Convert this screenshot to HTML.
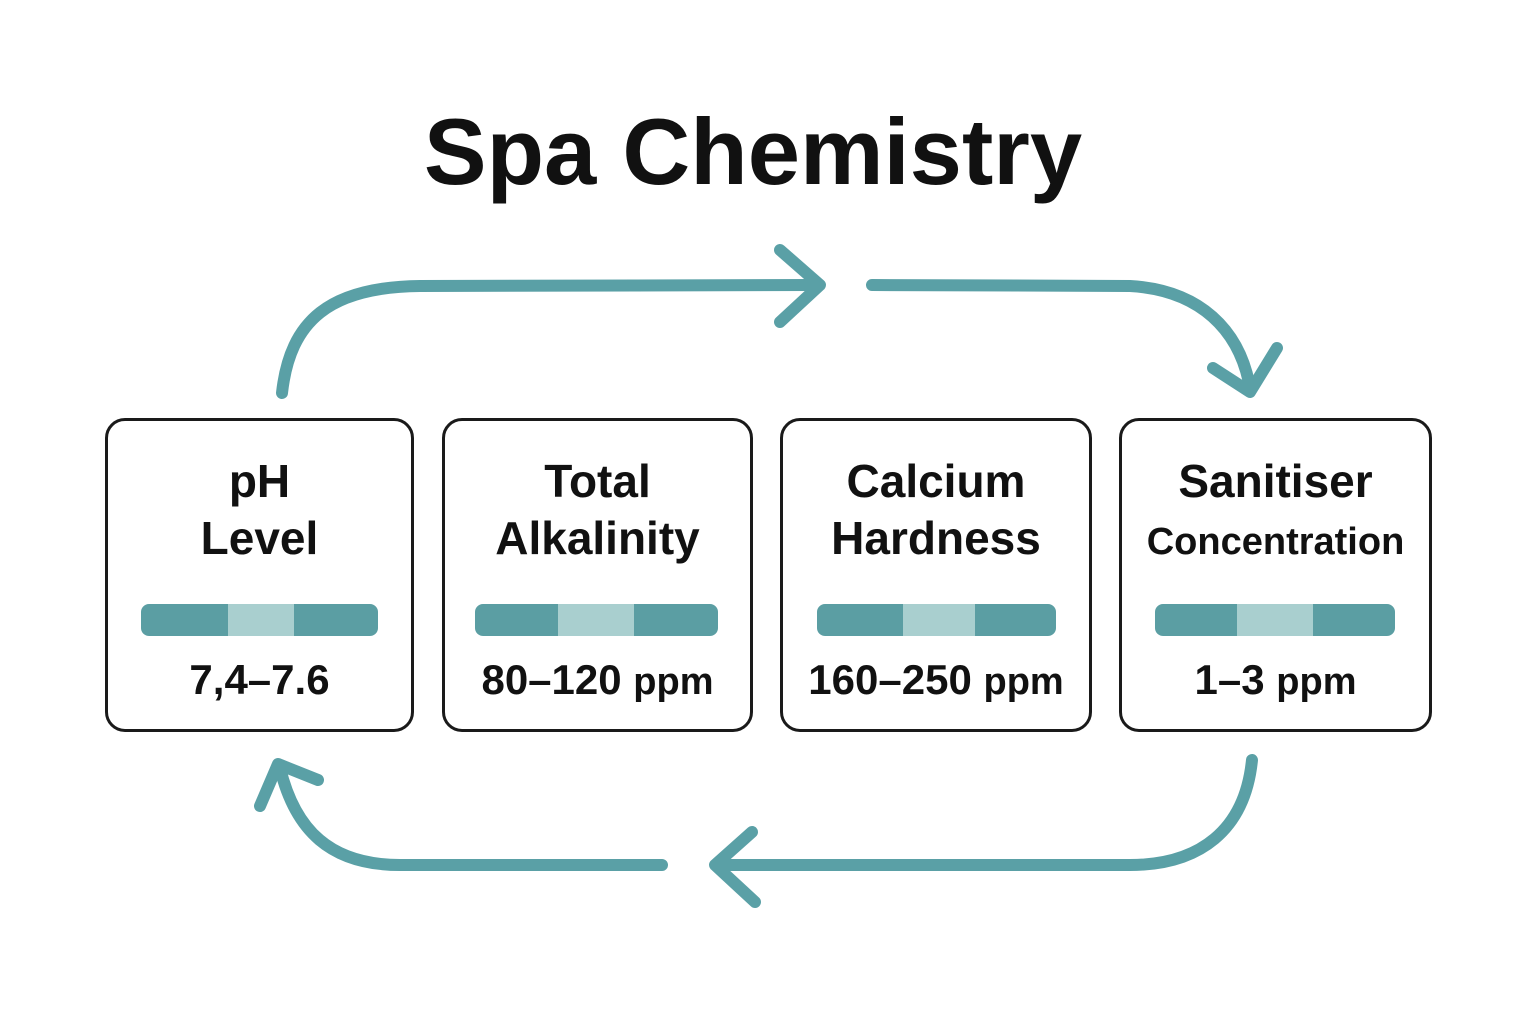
<!DOCTYPE html>
<html><head><meta charset="utf-8"><style>
html,body{margin:0;padding:0;background:#fff}
body{width:1536px;height:1024px;position:relative;overflow:hidden;font-family:"Liberation Sans",sans-serif;color:#111}
.title{position:absolute;left:0;width:1506px;top:98px;text-align:center;font-size:94px;font-weight:bold;letter-spacing:0}
.box{position:absolute;top:418px;height:309px;border:3px solid #1a1a1a;border-radius:20px;box-sizing:border-box;}
.t{position:absolute;left:0;right:0;text-align:center;font-weight:bold;font-size:46px;line-height:57px;top:32px}
.bar{position:absolute;top:183px;height:32px;border-radius:8px;background:#5b9ea3;overflow:hidden}
.bar i{position:absolute;top:0;bottom:0;background:#a9cfcf}
.v{position:absolute;left:0;right:0;text-align:center;top:234px;font-size:42px;font-weight:bold;line-height:50px}
.v small{font-size:38px}
</style></head><body>
<div class="title">Spa Chemistry</div>
<svg width="1536" height="1024" style="position:absolute;left:0;top:0" fill="none" stroke="#5aa0a6" stroke-width="12" stroke-linecap="round" stroke-linejoin="round">
<path d="M282 393 C290 320 330 287 420 286 L815 285"/>
<path d="M780 250 L820 285 L780 322"/>
<path d="M872 285 L1130 286 C1200 290 1240 330 1250 388"/>
<path d="M1213 368 L1250 392 L1277 348"/>
<path d="M1252 760 C1245 830 1200 865 1130 865 L718 865"/>
<path d="M752 832 L715 865 L755 902"/>
<path d="M662 865 L400 865 C330 865 295 830 280 768"/>
<path d="M260 806 L278 764 L318 780"/>
</svg>
<div class="box" style="left:105px;width:309px;height:314px">
 <div class="t">pH<br>Level</div>
 <div class="bar" style="left:33px;width:237px"><i style="left:87px;width:66px"></i></div>
 <div class="v">7,4–7.6</div>
</div>
<div class="box" style="left:442px;width:311px;height:314px">
 <div class="t">Total<br>Alkalinity</div>
 <div class="bar" style="left:30px;width:243px"><i style="left:83px;width:76px"></i></div>
 <div class="v">80–120 <small>ppm</small></div>
</div>
<div class="box" style="left:780px;width:312px;height:314px">
 <div class="t">Calcium<br>Hardness</div>
 <div class="bar" style="left:34px;width:239px"><i style="left:86px;width:72px"></i></div>
 <div class="v">160–250 <small>ppm</small></div>
</div>
<div class="box" style="left:1119px;width:313px;height:314px">
 <div class="t">Sanitiser<br><span style="font-size:38px">Concentration</span></div>
 <div class="bar" style="left:33px;width:240px"><i style="left:82px;width:76px"></i></div>
 <div class="v">1–3 <small>ppm</small></div>
</div>
</body></html>
